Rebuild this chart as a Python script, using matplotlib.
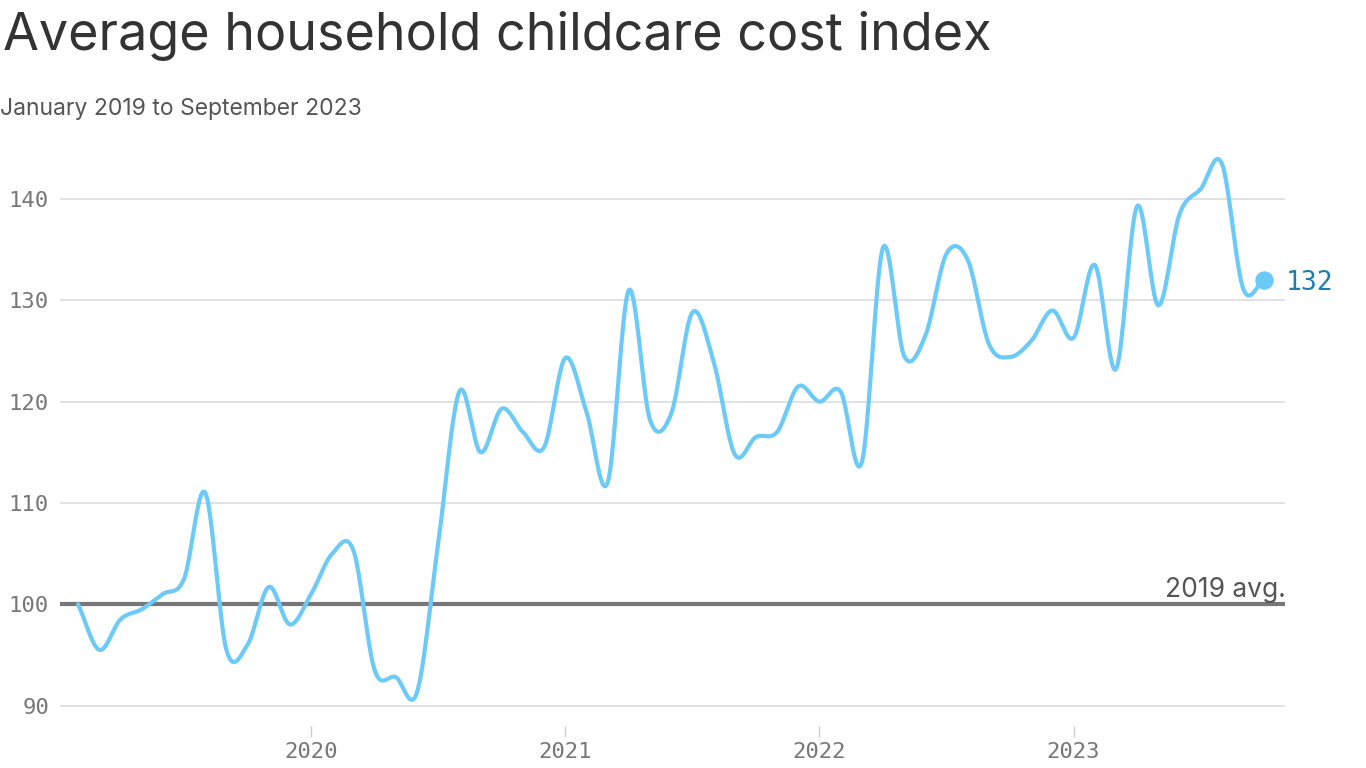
"""Average household childcare cost index, Jan 2019 - Sep 2023."""

import matplotlib

matplotlib.use("Agg")
import matplotlib.pyplot as plt
import numpy as np

# Monthly index values, January 2019 .. September 2023
index_values = [
    100.0, 95.5, 98.5, 99.5, 101.0, 102.5, 111.0, 95.5, 96.0, 101.7, 98.0, 101.0,
    105.0, 105.3, 93.5, 92.8, 91.3, 106.0, 121.0, 115.0, 119.3, 117.0, 115.5, 124.3,
    119.0, 112.0, 131.0, 118.2, 118.8, 128.8, 124.0, 114.8, 116.5, 117.0, 121.5, 120.0,
    121.0, 114.0, 135.2, 124.5, 126.5, 134.6, 134.0, 125.7, 124.4, 126.0, 129.0, 126.3,
    133.5, 123.2, 139.3, 129.5, 138.5, 141.0, 143.5, 131.2, 132.0,
]
year_labels = ["2020", "2021", "2022", "2023"]
year_tick_months = [11, 23, 35, 47]
y_ticks = [90, 100, 110, 120, 130, 140]
baseline = 100
baseline_label = "2019 avg."

LINE_COLOR = "#6ccaf9"
LABEL_COLOR = "#1a7fae"
GRAY = "#777777"


def catmull_rom(x, y, steps=20):
    """Smooth curve through the given points for drawing."""
    x = np.asarray(x, float)
    y = np.asarray(y, float)
    px = np.concatenate([[2 * x[0] - x[1]], x, [2 * x[-1] - x[-2]]])
    py = np.concatenate([[2 * y[0] - y[1]], y, [2 * y[-1] - y[-2]]])
    out_x, out_y = [], []
    t = np.linspace(0, 1, steps, endpoint=False)
    for i in range(1, len(px) - 2):
        for p, out in ((px, out_x), (py, out_y)):
            p0, p1, p2, p3 = p[i - 1], p[i], p[i + 1], p[i + 2]
            out.extend(
                0.5 * (2 * p1 + (-p0 + p2) * t + (2 * p0 - 5 * p1 + 4 * p2 - p3) * t**2
                       + (-p0 + 3 * p1 - 3 * p2 + p3) * t**3)
            )
    out_x.append(x[-1])
    out_y.append(y[-1])
    return np.array(out_x), np.array(out_y)


def main() -> None:
    months = np.arange(len(index_values))
    fig = plt.figure(figsize=(13.66, 7.68), dpi=100)
    ax = fig.add_axes([0.044, 0.055, 0.897, 0.765])

    for yt in y_ticks:
        ax.axhline(yt, color="#dddddd", linewidth=1.2, zorder=1)
    ax.axhline(baseline, color=GRAY, linewidth=3, zorder=2)
    ax.text(57.0, baseline + 0.1, baseline_label, ha="right",
            va="bottom", fontsize=19, color="#555555", family="Inter")

    sx, sy = catmull_rom(months, index_values)
    ax.plot(sx, sy, color=LINE_COLOR, linewidth=3, zorder=3, solid_capstyle="round")
    ax.scatter([months[-1]], [index_values[-1]], s=150, color=LINE_COLOR, zorder=4)
    ax.text(months[-1] + 1.0, index_values[-1] - 0.3, f"{index_values[-1]:.0f}",
            va="center", ha="left", fontsize=19, color=LABEL_COLOR,
            family="DejaVu Sans Mono")

    ax.set_xlim(-0.85, 57.0)
    ax.set_ylim(88, 146)
    ax.set_yticks(y_ticks)
    ax.set_xticks(year_tick_months, year_labels)
    ax.tick_params(axis="y", length=0, pad=8, labelsize=16, labelcolor=GRAY)
    ax.tick_params(axis="x", length=8, width=1, color="#cccccc", pad=4,
                   labelsize=16, labelcolor=GRAY)
    for lbl in ax.get_xticklabels() + ax.get_yticklabels():
        lbl.set_family("DejaVu Sans Mono")
    for spine in ax.spines.values():
        spine.set_visible(False)

    fig.text(0.002, 0.953, "Average household childcare cost index", fontsize=37.5,
             color="#333333", family="Inter", va="center")
    fig.text(0.0, 0.858, "January 2019 to September 2023", fontsize=16.5,
             color="#555555", family="Inter", va="center")

    fig.savefig("out.png", dpi=100)
    plt.close(fig)


if __name__ == "__main__":
    main()
